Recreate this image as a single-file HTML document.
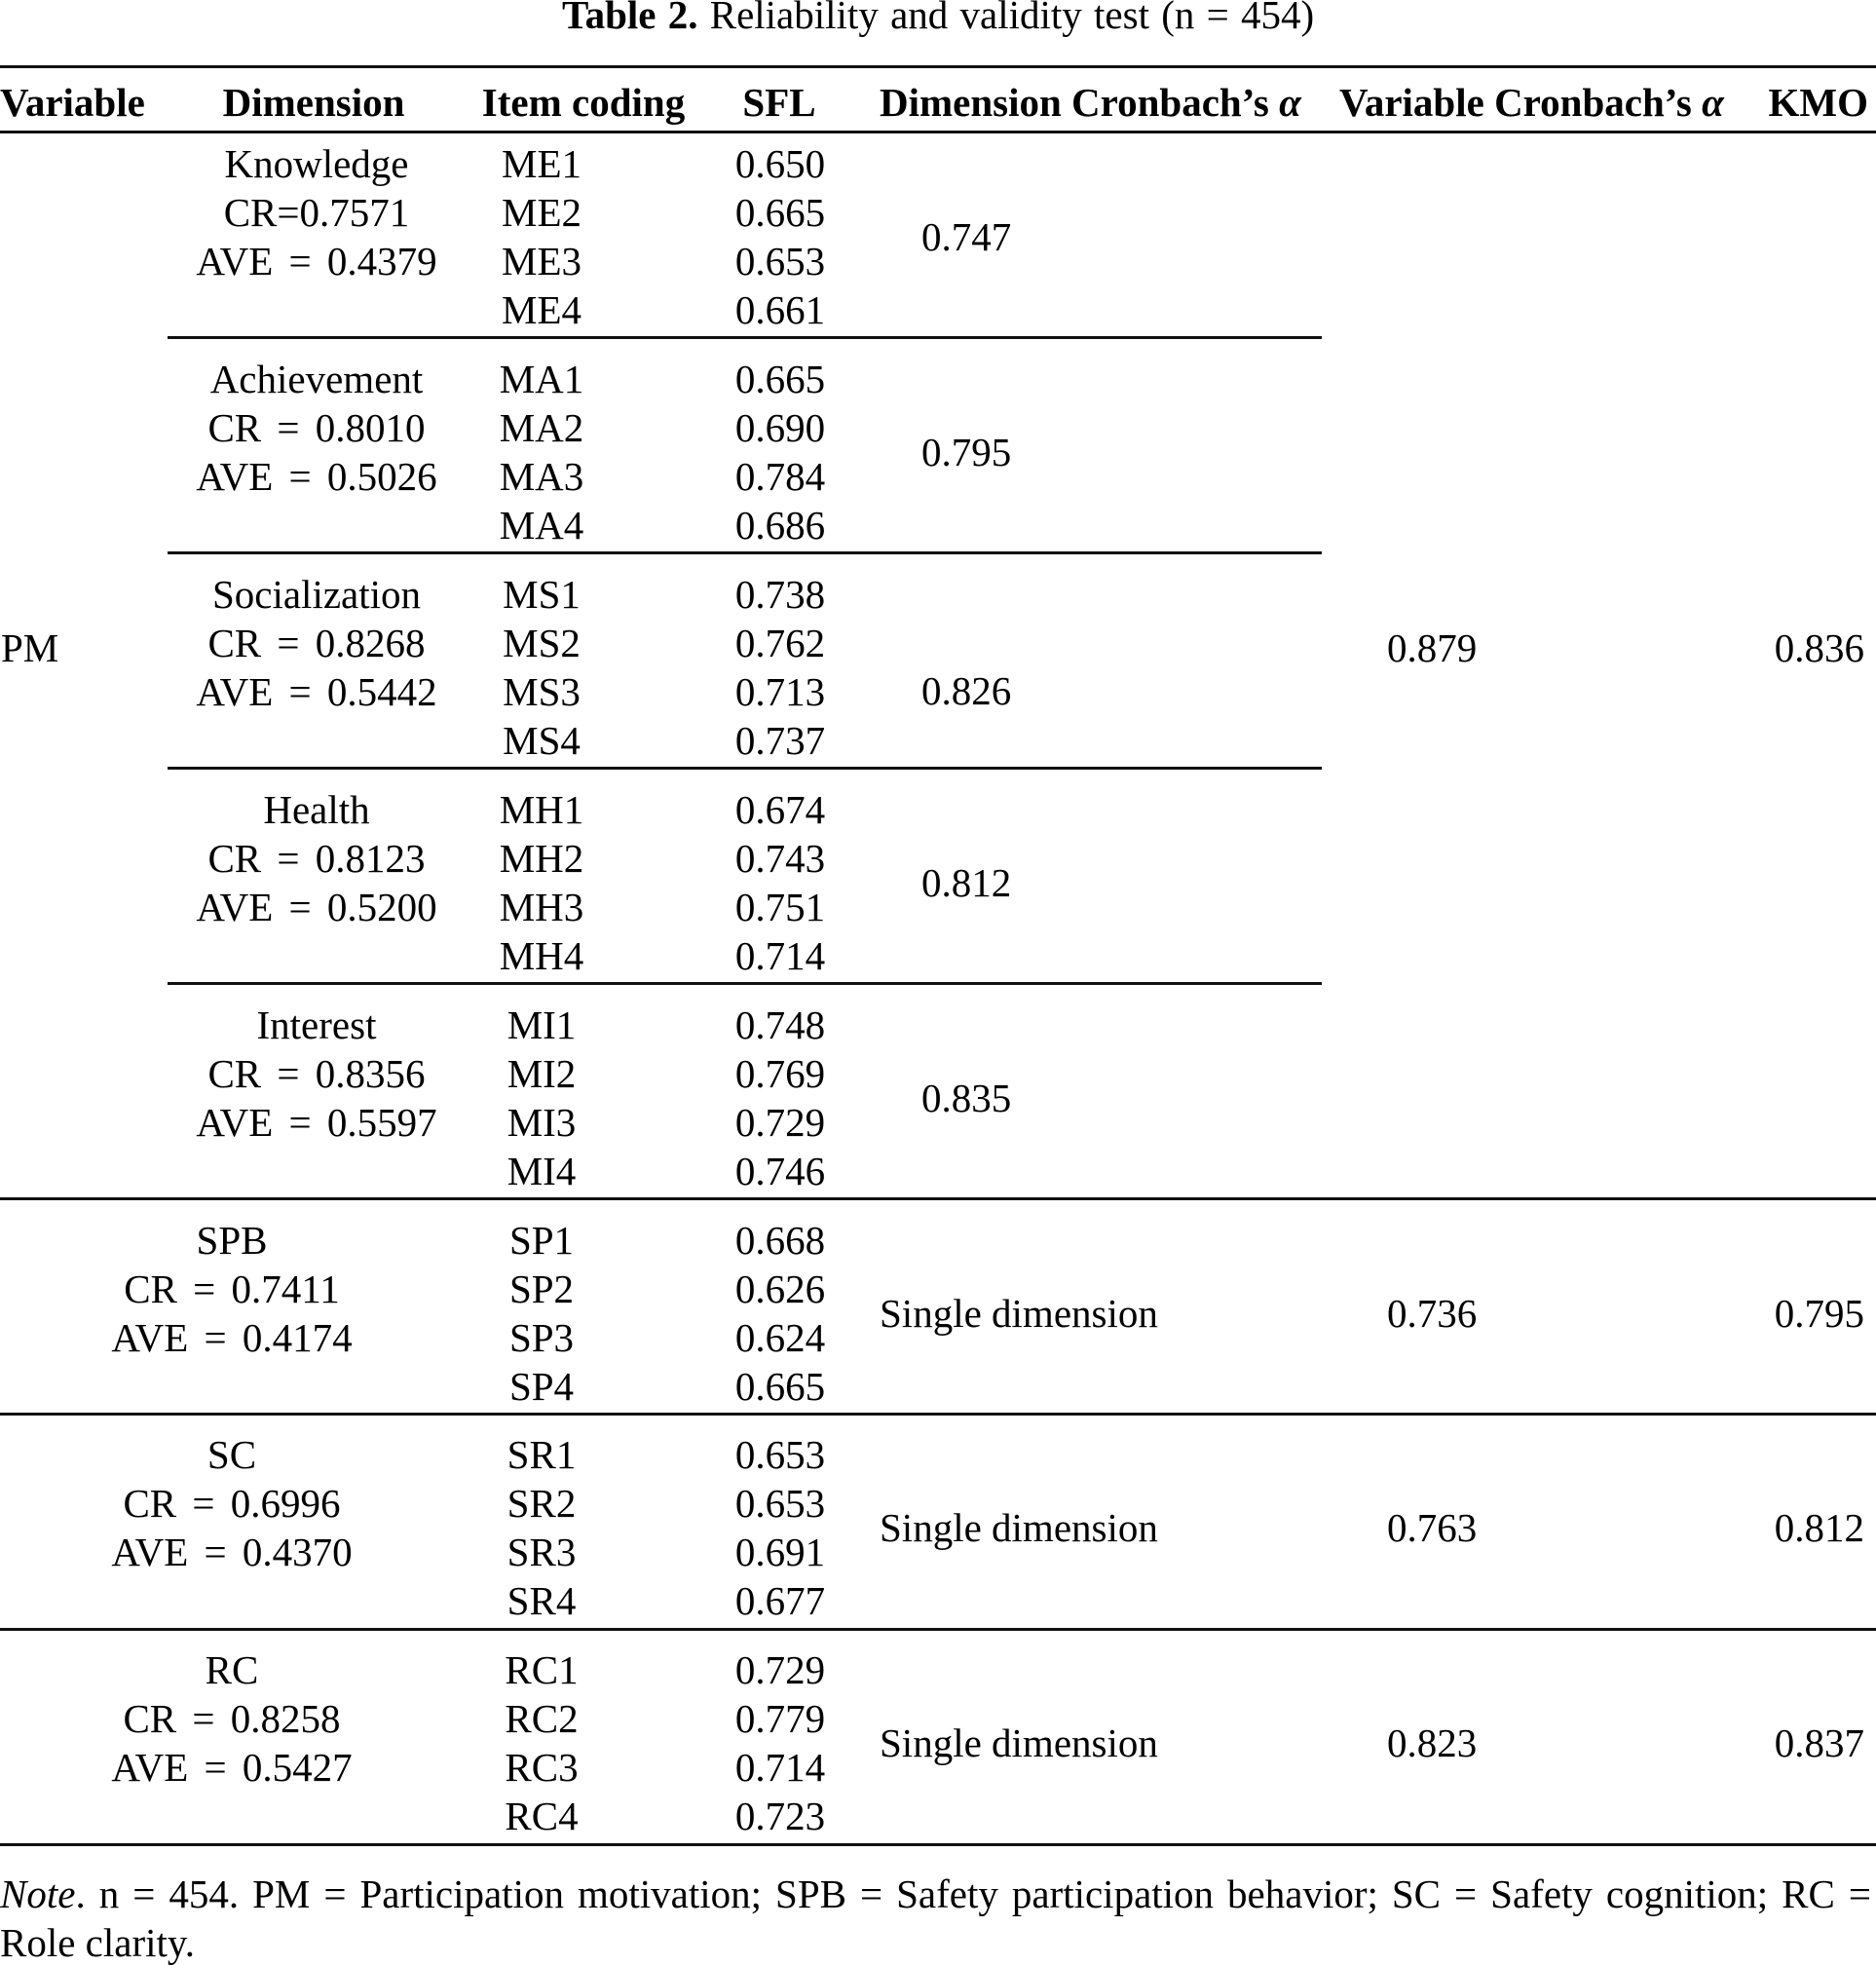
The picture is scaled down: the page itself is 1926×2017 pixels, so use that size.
<!DOCTYPE html>
<html>
<head>
<meta charset="utf-8">
<style>
html,body{margin:0;padding:0;background:#fff;}
body{width:1926px;height:2017px;position:relative;overflow:hidden;}
.t{position:absolute;font-family:"Liberation Serif","Times New Roman",serif;font-size:41px;line-height:41px;white-space:nowrap;color:#000;}
.b{font-weight:bold;}
.d{left:125px;width:400px;text-align:center;}
.ds{left:38px;width:400px;text-align:center;}
.w{word-spacing:6px;}
.it{left:456px;width:200px;text-align:center;}
.sf{left:701px;width:200px;text-align:center;}
.da{left:946px;}
.sg{left:903px;}
.va{left:1424px;}
.km{right:12px;text-align:right;}
.r{position:absolute;height:3px;background:#111;}
.full{left:0;width:1926px;}
.part{left:172px;width:1185px;}
</style>
</head>
<body>
<!-- Title -->
<div class="t" style="top:-5px;left:577px;word-spacing:2px;"><b>Table 2.</b> Reliability and validity test (n = 454)</div>

<!-- Rules -->
<div class="r full" style="top:67px;"></div>
<div class="r full" style="top:134px;"></div>
<div class="r part" style="top:345px;"></div>
<div class="r part" style="top:566px;"></div>
<div class="r part" style="top:787px;"></div>
<div class="r part" style="top:1008px;"></div>
<div class="r full" style="top:1229px;"></div>
<div class="r full" style="top:1450px;"></div>
<div class="r full" style="top:1671px;"></div>
<div class="r full" style="top:1892px;"></div>

<!-- Header -->
<div class="t b" style="top:85px;left:0px;">Variable</div>
<div class="t b" style="top:85px;left:122px;width:400px;text-align:center;">Dimension</div>
<div class="t b" style="top:85px;left:399px;width:400px;text-align:center;">Item coding</div>
<div class="t b" style="top:85px;left:700px;width:200px;text-align:center;">SFL</div>
<div class="t b" style="top:85px;left:903px;">Dimension Cronbach’s <i>α</i></div>
<div class="t b" style="top:85px;left:1375px;">Variable Cronbach’s <i>α</i></div>
<div class="t b" style="top:85px;right:8px;">KMO</div>

<!-- PM spanning -->
<div class="t" style="top:645px;left:1px;">PM</div>
<div class="t va" style="top:645px;">0.879</div>
<div class="t km" style="top:645px;">0.836</div>

<!-- Section 0: Knowledge -->
<div class="t d" style="top:148px;">Knowledge</div>
<div class="t d" style="top:198px;">CR=0.7571</div>
<div class="t d w" style="top:248px;">AVE = 0.4379</div>
<div class="t it" style="top:148px;">ME1</div>
<div class="t it" style="top:198px;">ME2</div>
<div class="t it" style="top:248px;">ME3</div>
<div class="t it" style="top:298px;">ME4</div>
<div class="t sf" style="top:148px;">0.650</div>
<div class="t sf" style="top:198px;">0.665</div>
<div class="t sf" style="top:248px;">0.653</div>
<div class="t sf" style="top:298px;">0.661</div>
<div class="t da" style="top:223px;">0.747</div>

<!-- Section 1: Achievement -->
<div class="t d" style="top:369px;">Achievement</div>
<div class="t d w" style="top:419px;">CR = 0.8010</div>
<div class="t d w" style="top:469px;">AVE = 0.5026</div>
<div class="t it" style="top:369px;">MA1</div>
<div class="t it" style="top:419px;">MA2</div>
<div class="t it" style="top:469px;">MA3</div>
<div class="t it" style="top:519px;">MA4</div>
<div class="t sf" style="top:369px;">0.665</div>
<div class="t sf" style="top:419px;">0.690</div>
<div class="t sf" style="top:469px;">0.784</div>
<div class="t sf" style="top:519px;">0.686</div>
<div class="t da" style="top:444px;">0.795</div>

<!-- Section 2: Socialization -->
<div class="t d" style="top:590px;">Socialization</div>
<div class="t d w" style="top:640px;">CR = 0.8268</div>
<div class="t d w" style="top:690px;">AVE = 0.5442</div>
<div class="t it" style="top:590px;">MS1</div>
<div class="t it" style="top:640px;">MS2</div>
<div class="t it" style="top:690px;">MS3</div>
<div class="t it" style="top:740px;">MS4</div>
<div class="t sf" style="top:590px;">0.738</div>
<div class="t sf" style="top:640px;">0.762</div>
<div class="t sf" style="top:690px;">0.713</div>
<div class="t sf" style="top:740px;">0.737</div>
<div class="t da" style="top:689px;">0.826</div>

<!-- Section 3: Health -->
<div class="t d" style="top:811px;">Health</div>
<div class="t d w" style="top:861px;">CR = 0.8123</div>
<div class="t d w" style="top:911px;">AVE = 0.5200</div>
<div class="t it" style="top:811px;">MH1</div>
<div class="t it" style="top:861px;">MH2</div>
<div class="t it" style="top:911px;">MH3</div>
<div class="t it" style="top:961px;">MH4</div>
<div class="t sf" style="top:811px;">0.674</div>
<div class="t sf" style="top:861px;">0.743</div>
<div class="t sf" style="top:911px;">0.751</div>
<div class="t sf" style="top:961px;">0.714</div>
<div class="t da" style="top:886px;">0.812</div>

<!-- Section 4: Interest -->
<div class="t d" style="top:1032px;">Interest</div>
<div class="t d w" style="top:1082px;">CR = 0.8356</div>
<div class="t d w" style="top:1132px;">AVE = 0.5597</div>
<div class="t it" style="top:1032px;">MI1</div>
<div class="t it" style="top:1082px;">MI2</div>
<div class="t it" style="top:1132px;">MI3</div>
<div class="t it" style="top:1182px;">MI4</div>
<div class="t sf" style="top:1032px;">0.748</div>
<div class="t sf" style="top:1082px;">0.769</div>
<div class="t sf" style="top:1132px;">0.729</div>
<div class="t sf" style="top:1182px;">0.746</div>
<div class="t da" style="top:1107px;">0.835</div>

<!-- Section 5: SPB -->
<div class="t ds" style="top:1253px;">SPB</div>
<div class="t ds w" style="top:1303px;">CR = 0.7411</div>
<div class="t ds w" style="top:1353px;">AVE = 0.4174</div>
<div class="t it" style="top:1253px;">SP1</div>
<div class="t it" style="top:1303px;">SP2</div>
<div class="t it" style="top:1353px;">SP3</div>
<div class="t it" style="top:1403px;">SP4</div>
<div class="t sf" style="top:1253px;">0.668</div>
<div class="t sf" style="top:1303px;">0.626</div>
<div class="t sf" style="top:1353px;">0.624</div>
<div class="t sf" style="top:1403px;">0.665</div>
<div class="t sg" style="top:1328px;">Single dimension</div>
<div class="t va" style="top:1328px;">0.736</div>
<div class="t km" style="top:1328px;">0.795</div>

<!-- Section 6: SC -->
<div class="t ds" style="top:1473px;">SC</div>
<div class="t ds w" style="top:1523px;">CR = 0.6996</div>
<div class="t ds w" style="top:1573px;">AVE = 0.4370</div>
<div class="t it" style="top:1473px;">SR1</div>
<div class="t it" style="top:1523px;">SR2</div>
<div class="t it" style="top:1573px;">SR3</div>
<div class="t it" style="top:1623px;">SR4</div>
<div class="t sf" style="top:1473px;">0.653</div>
<div class="t sf" style="top:1523px;">0.653</div>
<div class="t sf" style="top:1573px;">0.691</div>
<div class="t sf" style="top:1623px;">0.677</div>
<div class="t sg" style="top:1548px;">Single dimension</div>
<div class="t va" style="top:1548px;">0.763</div>
<div class="t km" style="top:1548px;">0.812</div>

<!-- Section 7: RC -->
<div class="t ds" style="top:1694px;">RC</div>
<div class="t ds w" style="top:1744px;">CR = 0.8258</div>
<div class="t ds w" style="top:1794px;">AVE = 0.5427</div>
<div class="t it" style="top:1694px;">RC1</div>
<div class="t it" style="top:1744px;">RC2</div>
<div class="t it" style="top:1794px;">RC3</div>
<div class="t it" style="top:1844px;">RC4</div>
<div class="t sf" style="top:1694px;">0.729</div>
<div class="t sf" style="top:1744px;">0.779</div>
<div class="t sf" style="top:1794px;">0.714</div>
<div class="t sf" style="top:1844px;">0.723</div>
<div class="t sg" style="top:1769px;">Single dimension</div>
<div class="t va" style="top:1769px;">0.823</div>
<div class="t km" style="top:1769px;">0.837</div>

<!-- Note -->
<div class="t" style="top:1924px;left:0;width:1921px;text-align:justify;text-align-last:justify;"><i>Note</i>. n = 454. PM = Participation motivation; SPB = Safety participation behavior; SC = Safety cognition; RC =</div>
<div class="t" style="top:1974px;left:0;">Role clarity.</div>
</body>
</html>
